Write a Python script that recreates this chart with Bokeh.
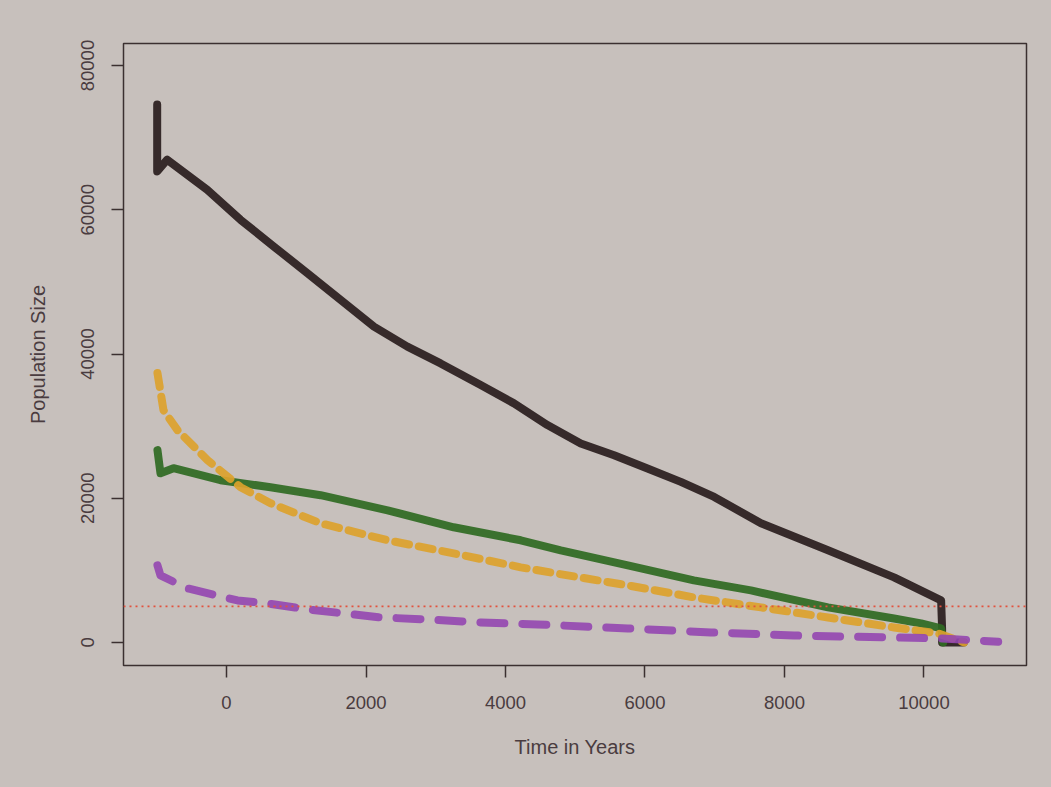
import numpy as np
from bokeh.plotting import figure
from bokeh.models import FixedTicker, NumeralTickFormatter, Span, Range1d
from bokeh.embed import file_html
from bokeh.resources import INLINE

# ---- data ----
black_x = [-994, -994, -851, -277, 201, 679, 1158, 1636, 2114, 2593, 3070, 3644, 4122, 4601, 5079,
           5557, 6036, 6514, 6992, 7663, 8624, 9571, 10246, 10260, 10260, 10570]
black_y = [74583, 65319, 66944, 62778, 58611, 54903, 51208, 47500, 43792, 41014, 38694, 35694, 33153, 30139, 27597,
           25972, 24125, 22264, 20181, 16530, 12780, 9030, 5830, 1900, 0, 0]

orange_x = [-990, -904, -703, -273, 201, 631, 1349, 2310, 3257, 4219, 4893,
            5754, 6701, 7663, 8624, 9571, 10203, 10576]
orange_y = [37360, 32220, 29440, 25280, 21530, 19300, 16530, 14170, 12360, 10420, 9300,
            7920, 6250, 4860, 3470, 2080, 1250, 0]

green_x = [-990, -947, -760, -86, 631, 1349, 2310, 3257, 4219, 4793, 5754, 6701,
           7519, 8624, 9571, 9959, 10246, 10275]
green_y = [26670, 23470, 24170, 22500, 21530, 20420, 18330, 15970, 14170, 12780, 10690, 8610,
           7220, 4860, 3330, 2640, 1940, 0]

purple_x = [-990, -947, -560, 158, 588, 1162, 2210, 2884, 3645, 4463, 5754, 6945,
            8136, 9571, 10246, 11064]
purple_y = [10700, 9300, 7500, 5830, 5420, 4580, 3470, 3190, 2780, 2500, 1940, 1390,
            970, 690, 560, 100]

threshold = 5000
x_ticks = [0, 2000, 4000, 6000, 8000, 10000]
y_ticks = [0, 20000, 40000, 60000, 80000]

# ---- styling ----
BG = "#c7c0bc"
TXT = "#4a3c40"
FONT = "Liberation Sans"

p = figure(width=1045, height=781, output_backend="svg", toolbar_location=None,
           x_range=Range1d(-1477, 11470), y_range=Range1d(-3194, 83056),
           min_border_left=123, min_border_right=19, min_border_top=43, min_border_bottom=116)

p.background_fill_color = BG
p.border_fill_color = BG
p.outline_line_color = "#3b3030"
p.outline_line_width = 1.5
p.grid.visible = False

p.line(black_x, black_y, line_color="#2e2222", line_width=8, line_alpha=0.95, line_cap="round", line_join="round")
p.line(green_x, green_y, line_color="#2f6a22", line_width=8, line_alpha=0.92, line_cap="round", line_join="round")
p.line(orange_x, orange_y, line_color="#dca22c", line_width=8, line_alpha=0.92, line_cap="round",
       line_join="round", line_dash="14 10")
p.line(purple_x, purple_y, line_color="#9446b0", line_width=8, line_alpha=0.9, line_cap="round",
       line_join="round", line_dash="24 18")

p.add_layout(Span(location=threshold, dimension="width", line_color="#e2523e",
                  line_dash="2 4", line_width=1.6))

p.xaxis.ticker = FixedTicker(ticks=x_ticks)
p.yaxis.ticker = FixedTicker(ticks=y_ticks)
p.xaxis.formatter = NumeralTickFormatter(format="0")
p.yaxis.formatter = NumeralTickFormatter(format="0")
p.yaxis.major_label_orientation = "vertical"

for ax in (p.xaxis, p.yaxis):
    ax.axis_line_color = None
    ax.major_tick_line_color = "#3b3030"
    ax.major_tick_line_width = 1.5
    ax.major_tick_out = 12
    ax.major_tick_in = 0
    ax.minor_tick_line_color = None
    ax.major_label_text_font = FONT
    ax.major_label_text_font_size = "18.5px"
    ax.major_label_text_color = TXT
    ax.axis_label_text_font = FONT
    ax.axis_label_text_font_size = "20px"
    ax.axis_label_text_font_style = "normal"
    ax.axis_label_text_color = TXT

p.xaxis.axis_label = "Time in Years"
p.yaxis.axis_label = "Population Size"
p.xaxis.major_label_standoff = 18
p.yaxis.major_label_standoff = 17
p.xaxis.axis_label_standoff = 24
p.yaxis.axis_label_standoff = 30

html = file_html(p, INLINE)
html = html.replace("<body>", '<body style="background:%s">' % BG)
open("out.html", "w").write(html)
